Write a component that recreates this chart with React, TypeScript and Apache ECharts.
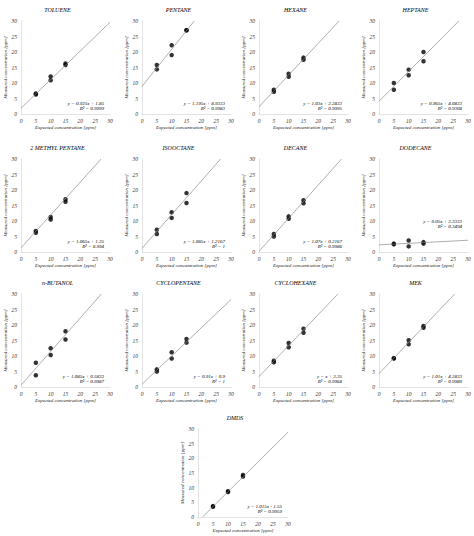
import { useEffect, useRef } from 'react';
import * as echarts from 'echarts';

// calibration panels, one per compound
const compounds = [
  'TOLUENE', 'PENTANE', 'HEXANE', 'HEPTANE',
  '2 METHYL PENTANE', 'ISOOCTANE', 'DECANE', 'DODECANE',
  'n-BUTANOL', 'CYCLOPENTANE', 'CYCLOHEXANE', 'MEK',
  'DMDS',
];

const expected = [5, 5, 10, 10, 15, 15];

const toluene = [6.3, 6.6, 10.9, 12.1, 15.8, 16.3];
const pentane = [14.4, 15.8, 19.0, 22.2, 27.0, 27.0];
const hexane = [7.2, 7.8, 12.0, 13.0, 17.5, 18.2];
const heptane = [7.8, 10.0, 12.5, 14.3, 17.0, 20.0];
const methylPentane = [6.2, 6.8, 10.5, 11.3, 16.2, 17.0];
const isooctane = [5.8, 7.2, 11.0, 12.8, 15.8, 19.0];
const decane = [5.0, 5.8, 10.7, 11.5, 15.7, 16.7];
const dodecane = [2.5, 2.7, 1.8, 3.7, 2.7, 3.2];
const butanol = [3.8, 7.8, 10.3, 12.5, 15.3, 18.0];
const cyclopentane = [5.0, 5.7, 9.2, 11.2, 14.3, 15.5];
const cyclohexane = [8.0, 8.5, 12.8, 14.2, 17.5, 18.8];
const mek = [9.2, 9.3, 13.8, 15.1, 19.1, 19.7];
const dmds = [3.5, 3.7, 8.5, 8.8, 13.8, 14.3];

const measured = [
  toluene, pentane, hexane, heptane,
  methylPentane, isooctane, decane, dodecane,
  butanol, cyclopentane, cyclohexane, mek,
  dmds,
];

// trend line end points
const fitLines = [
  [[0, 1.85], [30, 29.6]],
  [[0, 8.9], [17.6, 30]],
  [[0, 2.3], [27, 30]],
  [[0, 4.1], [26.9, 30]],
  [[0, 1.35], [27, 30]],
  [[0, 1.2], [26.5, 30]],
  [[0, 0.2], [27.8, 30]],
  [[0, 2.3], [30, 3.8]],
  [[0, 0.6], [27.1, 30]],
  [[0, 0.9], [30, 28.2]],
  [[0, 3.35], [26.6, 30]],
  [[0, 4.3], [25.5, 30]],
  [[1.5, 0], [30, 28.9]],
];

const equations = [
  'y = 0.925x + 1.85', 'y = 1.195x + 8.9333', 'y = 1.03x + 2.2833', 'y = 0.965x + 4.0833',
  'y = 1.065x + 1.35', 'y = 1.085x + 1.2167', 'y = 1.07x + 0.2167', 'y = 0.05x + 2.3333',
  'y = 1.085x + 0.5833', 'y = 0.91x + 0.9', 'y = x + 3.35', 'y = 1.01x + 4.2833',
  'y = 1.015x - 1.55',
];
const rSquared = [
  '0.9999', '0.9983', '0.9995', '0.9308',
  '0.994', '1', '0.9986', '0.3494',
  '0.9987', '1', '0.9968', '0.9980',
  '0.9959',
];

const axisMin = 0;
const axisMax = 30;
const axisStep = 5;

const xTitle = 'Expected concentration [ppm]';
const yTitle = 'Measured concentration [ppm]';

const colLefts = [21, 142, 259, 379];
const rowTops = [21, 159, 294, 429];
const plotW = 89;
const font = '"Liberation Serif", "DejaVu Serif", serif';

function panelRect(i: number) {
  if (i === 12) return { left: 198, top: rowTops[3], width: 90, height: 88 };
  return { left: colLefts[i % 4], top: rowTops[Math.floor(i / 4)], width: plotW, height: 93 };
}

export default function App() {
  const ref = useRef<HTMLDivElement | null>(null);

  useEffect(() => {
    if (!ref.current) return;
    const chart = echarts.init(ref.current, null, { renderer: 'svg' });

    const grid: any[] = [];
    const xAxis: any[] = [];
    const yAxis: any[] = [];
    const series: any[] = [];
    const graphic: any[] = [];

    compounds.forEach((name, i) => {
      const r = panelRect(i);
      grid.push({ left: r.left, top: r.top, width: r.width, height: r.height, outerBoundsMode: 'none', containLabel: false });
      const axisCommon = {
        gridIndex: i,
        type: 'value',
        min: axisMin,
        max: axisMax,
        interval: axisStep,
        nameLocation: 'middle',
        nameTextStyle: { fontFamily: font, fontStyle: 'italic', fontSize: 5, color: '#222' },
        axisLine: { show: true, lineStyle: { color: '#d0d0d0', width: 0.6 } },
        axisTick: { show: false },
        splitLine: { show: false },
        axisLabel: { fontFamily: font, fontStyle: 'italic', fontSize: 5.5, color: '#333', margin: 4 },
      };
      xAxis.push({ ...axisCommon, name: xTitle, nameGap: 11 });
      yAxis.push({ ...axisCommon, name: yTitle, nameGap: 9 });

      series.push({
        type: 'line',
        xAxisIndex: i,
        yAxisIndex: i,
        data: fitLines[i],
        symbol: 'none',
        silent: true,
        lineStyle: { color: '#8c8c8c', width: 0.7 },
      });
      series.push({
        type: 'scatter',
        xAxisIndex: i,
        yAxisIndex: i,
        data: expected.map((x, j) => [x, measured[i][j]]),
        symbol: 'circle',
        symbolSize: 4.5,
        itemStyle: { color: '#000' },
      });

      graphic.push({
        type: 'text',
        x: r.left + r.width / 2 - 8,
        y: r.top - 11,
        style: {
          text: name,
          fontFamily: font,
          fontStyle: 'italic',
          fontSize: 6,
          fill: '#000',
          textAlign: 'center',
          textVerticalAlign: 'middle',
        },
      });
      const eqBottom = i === 7 ? 26 : 6;
      graphic.push({
        type: 'text',
        x: r.left + r.width - 6,
        y: r.top + r.height - eqBottom - 4.5,
        style: {
          text: equations[i],
          fontFamily: font,
          fontStyle: 'italic',
          fontSize: 5,
          fill: '#000',
          textAlign: 'right',
          textVerticalAlign: 'middle',
        },
      });
      graphic.push({
        type: 'text',
        x: r.left + r.width - 6,
        y: r.top + r.height - eqBottom,
        style: {
          text: 'R² = ' + rSquared[i],
          fontFamily: font,
          fontStyle: 'italic',
          fontSize: 5,
          fill: '#000',
          textAlign: 'right',
          textVerticalAlign: 'middle',
        },
      });
    });

    chart.setOption({
      animation: false,
      backgroundColor: '#fff',
      grid,
      xAxis,
      yAxis,
      series,
      graphic,
    });

    return () => chart.dispose();
  }, []);

  return <div ref={ref} style={{ position: 'fixed', left: 0, top: 0, width: 474, height: 536 }} />;
}
